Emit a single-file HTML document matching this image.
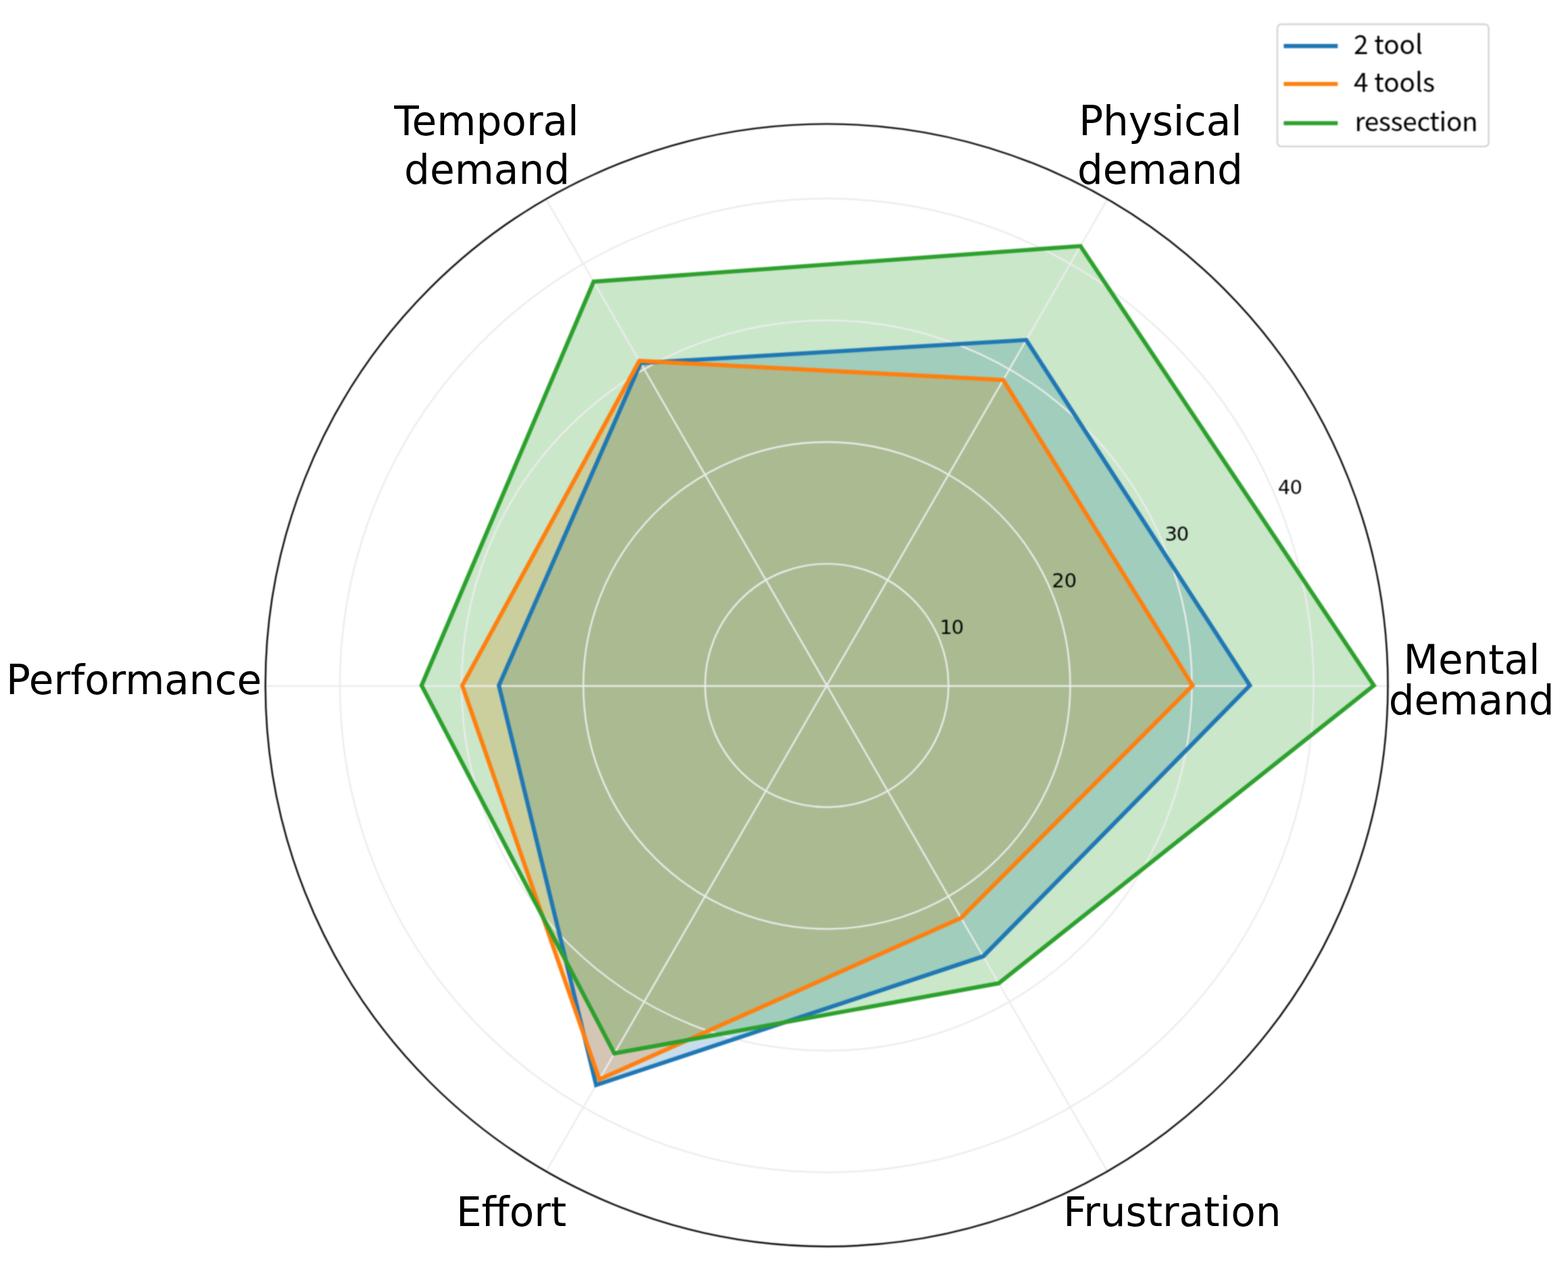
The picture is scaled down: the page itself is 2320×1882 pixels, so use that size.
<!DOCTYPE html>
<html lang="en"><head><meta charset="utf-8"><title>NASA-TLX radar chart</title>
<style>html,body{margin:0;padding:0;background:#fff;}body{width:2320px;height:1882px;}svg{display:block;}
.ax{font-family:"DejaVu Sans","Liberation Sans",sans-serif;font-size:59.7px;fill:#000;}
.tk{font-family:"DejaVu Sans","Liberation Sans",sans-serif;font-size:29px;fill:#000;}
.lg{font-family:"Noto Sans CJK SC","Liberation Sans",sans-serif;font-size:38.7px;fill:#000;}
</style></head><body>
<svg width="2320" height="1882" viewBox="0 0 2320 1882">
<rect width="2320" height="1882" fill="#fff"/>
<defs><filter id="soft" x="0" y="0" width="2320" height="1882" filterUnits="userSpaceOnUse" color-interpolation-filters="sRGB"><feConvolveMatrix order="5 1" kernelMatrix="0.0295 0.2354 0.4702 0.2354 0.0295" edgeMode="duplicate" preserveAlpha="true"/><feConvolveMatrix order="1 5" kernelMatrix="0.0295 0.2354 0.4702 0.2354 0.0295" edgeMode="duplicate" preserveAlpha="true"/></filter></defs>
<g filter="url(#soft)">
<rect width="2320" height="1882" fill="#fff"/>
<polygon points="1849.30,1014.20 1518.40,503.07 947.90,537.19 738.15,1014.20 882.00,1605.35 1454.70,1415.00" fill="#1f77b4" fill-opacity="0.25" stroke="none"/>
<polygon points="1764.50,1014.20 1484.30,562.13 946.05,533.99 683.90,1014.20 886.80,1597.04 1421.90,1358.19" fill="#ff7f0e" fill-opacity="0.25" stroke="none"/>
<polygon points="2032.80,1014.20 1598.65,364.07 878.35,416.73 623.75,1014.20 909.00,1558.58 1477.70,1454.83" fill="#2ca02c" fill-opacity="0.25" stroke="none"/>
<g fill="none" stroke="#ececec" stroke-width="2.45">
<circle cx="1223.30" cy="1014.20" r="180.10"/>
<circle cx="1223.30" cy="1014.20" r="360.20"/>
<circle cx="1223.30" cy="1014.20" r="540.30"/>
<circle cx="1223.30" cy="1014.20" r="720.40"/>
<line x1="1223.30" y1="1014.90" x2="2053.50" y2="1014.90"/>
<line x1="1223.30" y1="1014.20" x2="1638.40" y2="295.23"/>
<line x1="1223.30" y1="1014.20" x2="808.20" y2="295.23"/>
<line x1="1223.30" y1="1014.90" x2="393.10" y2="1014.90"/>
<line x1="1223.30" y1="1014.20" x2="808.20" y2="1733.17"/>
<line x1="1223.30" y1="1014.20" x2="1638.40" y2="1733.17"/>
</g>
<polygon points="1849.30,1014.20 1518.40,503.07 947.90,537.19 738.15,1014.20 882.00,1605.35 1454.70,1415.00" fill="none" stroke="#1f77b4" stroke-width="6.10" stroke-linejoin="miter" stroke-miterlimit="10"/>
<polygon points="1764.50,1014.20 1484.30,562.13 946.05,533.99 683.90,1014.20 886.80,1597.04 1421.90,1358.19" fill="none" stroke="#ff7f0e" stroke-width="6.10" stroke-linejoin="miter" stroke-miterlimit="10"/>
<polygon points="2032.80,1014.20 1598.65,364.07 878.35,416.73 623.75,1014.20 909.00,1558.58 1477.70,1454.83" fill="none" stroke="#2ca02c" stroke-width="6.10" stroke-linejoin="miter" stroke-miterlimit="10"/>
<text class="tk" x="1390.60" y="938.40" style="letter-spacing:-1.30px">10</text>
<text class="tk" x="1556.60" y="869.30" style="letter-spacing:-0.40px">20</text>
<text class="tk" x="1723.40" y="800.30" style="letter-spacing:-1.20px">30</text>
<text class="tk" x="1890.80" y="731.00" style="letter-spacing:-0.80px">40</text>
<rect x="1890.00" y="35.90" width="312.60" height="180.90" rx="6.00" ry="6.00" fill="#fff" fill-opacity="0.8" stroke="#ccc" stroke-opacity="0.8" stroke-width="2.60"/>
<line x1="1899.40" y1="68.10" x2="1979.30" y2="68.10" stroke="#1f77b4" stroke-width="6.10"/>
<text class="lg" x="2003.00" y="80.40">2 tool</text>
<line x1="1899.40" y1="124.20" x2="1979.30" y2="124.20" stroke="#ff7f0e" stroke-width="6.10"/>
<text class="lg" x="2003.00" y="135.90">4 tools</text>
<line x1="1899.40" y1="182.30" x2="1979.30" y2="182.30" stroke="#2ca02c" stroke-width="6.10"/>
<text class="lg" x="2004.50" y="193.90" style="letter-spacing:-0.35px">ressection</text>
<circle cx="1223.10" cy="1013.80" r="830.40" fill="none" stroke="#000" stroke-width="2.4"/>
</g>
<text class="ax" x="2076.50" y="996.90" style="letter-spacing:-0.12px">Mental</text>
<text class="ax" x="2054.70" y="1056.70">demand</text>
<text class="ax" x="1596.30" y="200.00" style="letter-spacing:-0.20px">Physical</text>
<text class="ax" x="1593.90" y="271.75">demand</text>
<text class="ax" x="583.30" y="200.00">Temporal</text>
<text class="ax" x="598.10" y="271.75">demand</text>
<text class="ax" x="9.00" y="1026.50">Performance</text>
<text class="ax" x="674.90" y="1813.80">Effort</text>
<text class="ax" x="1573.20" y="1814.00">Frustration</text>
</svg></body></html>
